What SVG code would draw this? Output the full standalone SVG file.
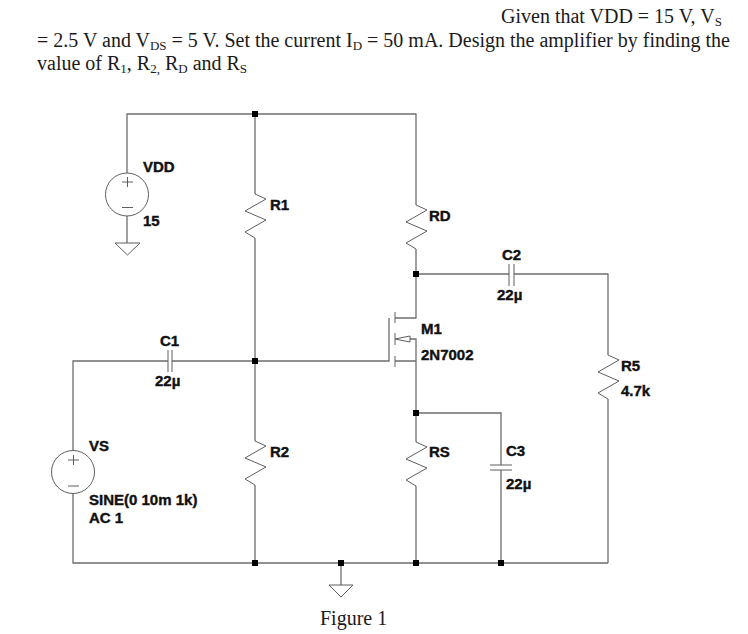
<svg xmlns="http://www.w3.org/2000/svg" width="748" height="634" viewBox="0 0 748 634">
<style>
.w{fill:none;stroke:#6e6e6e;stroke-width:1.3}
.s{fill:none;stroke:#5f5f5f;stroke-width:1}
.j{fill:#000;stroke:none}
.t{font-family:"Liberation Serif","Times New Roman",serif;font-size:20px;fill:#1a1a1a}
.sub{font-size:13px}
.l{font-family:"Liberation Sans",Arial,sans-serif;font-size:15px;font-weight:bold;fill:#111;stroke:#111;stroke-width:.4}
</style>
<defs>
<path id="res" class="s" d="M0 0L11 5L-10 17L11 26L-10 38L0 44"/>
<rect id="dot" class="j" x="-3" y="-3" width="6" height="6"/>
</defs>
<rect width="748" height="634" fill="#fff"/>
<g id="heading">
<text class="t" x="501" y="23">Given that VDD = 15 V, V<tspan class="sub" dy="3">S</tspan></text>
<text class="t" x="37" y="47">= 2.5 V and V<tspan class="sub" dy="3">DS</tspan><tspan dy="-3"> = 5 V. Set the current I</tspan><tspan class="sub" dy="3">D</tspan><tspan dy="-3"> = 50 mA. Design the amplifier by finding the</tspan></text>
<text class="t" x="37" y="70">value of R<tspan class="sub" dy="3">1</tspan><tspan dy="-3">, R</tspan><tspan class="sub" dy="3">2,</tspan><tspan dy="-3"> R</tspan><tspan class="sub" dy="3">D</tspan><tspan dy="-3"> and R</tspan><tspan class="sub" dy="3">S</tspan></text>
</g>
<g id="connectors">
<path class="w" d="M127 173V114H416V205"/>
<path class="w" d="M127 216V243"/>
<path class="w" d="M255 114V194M255 238V441M255 485V563"/>
<path class="w" d="M416 249V318H395"/>
<path class="w" d="M416 274H509M514 274H608V355M608 399V563"/>
<path class="w" d="M73 451V361H168M172 361H389V318"/>
<path class="w" d="M395 361H416V339H410M416 361V442M416 486V563"/>
<path class="w" d="M416 413H501V465M501 470V563"/>
<path class="w" d="M73 493V563H608"/>
<path class="w" d="M341 563V585"/>
</g>
<g id="VDD"><circle class="s" cx="127" cy="194.500" r="21.500"/><path class="s" d="M122 182H133M127.500 177V187M122 207.500H133"/><path class="s" d="M115 243H140L127.500 255Z"/><text class="l" x="143" y="172">VDD</text><text class="l" x="143" y="226">15</text></g>
<g id="VS"><circle class="s" cx="73" cy="472" r="21.500"/><path class="s" d="M68 460H79M73.500 455V465M68 486H79"/><text class="l" x="89" y="451">VS</text><text class="l" x="89" y="505">SINE(0 10m 1k)</text><text class="l" x="89" y="523">AC 1</text></g>
<g id="R1"><use href="#res" x="255" y="194"/><text class="l" x="270" y="210">R1</text></g>
<g id="R2"><use href="#res" x="255" y="441"/><text class="l" x="270" y="457">R2</text></g>
<g id="RD"><use href="#res" x="416" y="205"/><text class="l" x="429" y="221">RD</text></g>
<g id="RS"><use href="#res" x="416" y="442"/><text class="l" x="429" y="457">RS</text></g>
<g id="R5"><use href="#res" x="608" y="355"/><text class="l" x="621" y="371">R5</text><text class="l" x="621" y="396">4.7k</text></g>
<g id="C1"><path class="s" d="M168 350V372M172 350V372"/><text class="l" x="160" y="346">C1</text><text class="l" x="155" y="386">22µ</text></g>
<g id="C2"><path class="s" d="M509 264V286M514 264V286"/><text class="l" x="502" y="260">C2</text><text class="l" x="497" y="300">22µ</text></g>
<g id="C3"><path class="s" d="M490 465H512M490 470H512"/><text class="l" x="506" y="456">C3</text><text class="l" x="506" y="489">22µ</text></g>
<g id="M1"><path class="s" d="M395 312V323M395 333V345M395 356V367M395 339L410 336V342L395 339"/><text class="l" x="421" y="334">M1</text><text class="l" x="421" y="360">2N7002</text></g>
<g id="GND"><path class="s" d="M329 585H353L341 597Z"/></g>
<g id="junctions">
<use href="#dot" x="255" y="114"/><use href="#dot" x="416" y="274"/><use href="#dot" x="255" y="361"/><use href="#dot" x="416" y="413"/><use href="#dot" x="255" y="563"/><use href="#dot" x="341" y="563"/><use href="#dot" x="416" y="563"/><use href="#dot" x="501" y="563"/>
</g>
<text id="caption" class="t" x="320" y="625">Figure 1</text>
</svg>
